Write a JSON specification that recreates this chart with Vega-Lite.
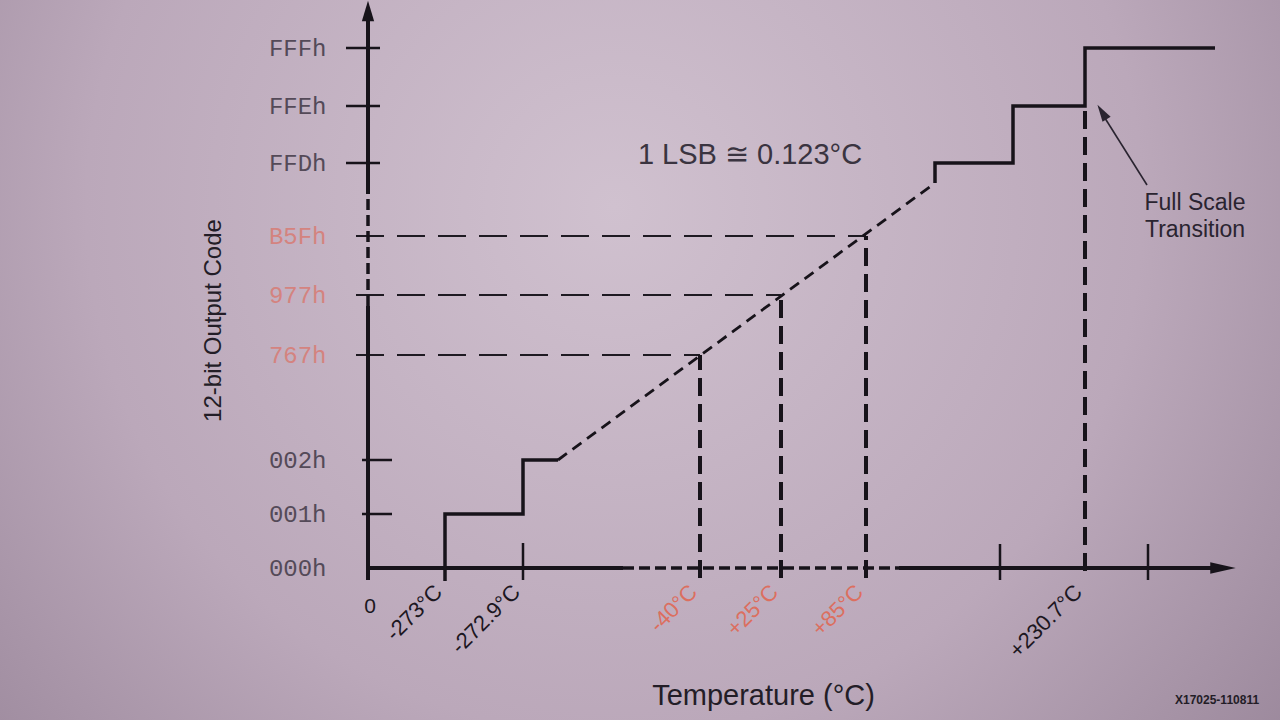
{
  "$schema": "https://vega.github.io/schema/vega-lite/v6.json",
  "width": 1280,
  "height": 720,
  "autosize": {"type": "none"},
  "padding": 0,
  "background": "#b3a0b2",
  "view": {
    "stroke": null,
    "fill": {
      "gradient": "radial",
      "x1": 0.48, "y1": 0.38, "r1": 0,
      "x2": 0.48, "y2": 0.38, "r2": 0.75,
      "stops": [
        {"offset": 0, "color": "#d0c1cf"},
        {"offset": 0.55, "color": "#bba8ba"},
        {"offset": 1, "color": "#927f93"}
      ]
    }
  },
  "datasets": {
    "lines": [
      {"kind": "axis", "seg": "y-lo", "ord": 0, "u": 0, "v": -1.2},
      {"kind": "axis", "seg": "y-lo", "ord": 1, "u": 0, "v": 26.2},
      {"kind": "axis", "seg": "y-hi", "ord": 0, "u": 0, "v": 37.4},
      {"kind": "axis", "seg": "y-hi", "ord": 1, "u": 0, "v": 55},
      {"kind": "axis", "seg": "x-lo", "ord": 0, "u": -0.2, "v": 0},
      {"kind": "axis", "seg": "x-lo", "ord": 1, "u": 25.5, "v": 0},
      {"kind": "axis", "seg": "x-hi", "ord": 0, "u": 53.1, "v": 0},
      {"kind": "axis", "seg": "x-hi", "ord": 1, "u": 84.5, "v": 0},
      {"kind": "axis-break", "seg": "y-br", "ord": 0, "u": 0, "v": 26.2},
      {"kind": "axis-break", "seg": "y-br", "ord": 1, "u": 0, "v": 37.4},
      {"kind": "axis-break", "seg": "x-br", "ord": 0, "u": 25.5, "v": 0},
      {"kind": "axis-break", "seg": "x-br", "ord": 1, "u": 53.1, "v": 0},
      {"kind": "tick", "seg": "FFF", "ord": 0, "u": -2.2, "v": 52},
      {"kind": "tick", "seg": "FFF", "ord": 1, "u": 1.2, "v": 52},
      {"kind": "tick", "seg": "FFE", "ord": 0, "u": -2.2, "v": 46.2},
      {"kind": "tick", "seg": "FFE", "ord": 1, "u": 1.2, "v": 46.2},
      {"kind": "tick", "seg": "FFD", "ord": 0, "u": -2.2, "v": 40.5},
      {"kind": "tick", "seg": "FFD", "ord": 1, "u": 1.2, "v": 40.5},
      {"kind": "tick", "seg": "002", "ord": 0, "u": -0.6, "v": 10.8},
      {"kind": "tick", "seg": "002", "ord": 1, "u": 2.4, "v": 10.8},
      {"kind": "tick", "seg": "001", "ord": 0, "u": -0.6, "v": 5.4},
      {"kind": "tick", "seg": "001", "ord": 1, "u": 2.4, "v": 5.4},
      {"kind": "tick", "seg": "t-272.9", "ord": 0, "u": 15.5, "v": -1.2},
      {"kind": "tick", "seg": "t-272.9", "ord": 1, "u": 15.5, "v": 2.5},
      {"kind": "tick", "seg": "t-a", "ord": 0, "u": 63.2, "v": -1.2},
      {"kind": "tick", "seg": "t-a", "ord": 1, "u": 63.2, "v": 2.4},
      {"kind": "tick", "seg": "t-b", "ord": 0, "u": 78, "v": -1.2},
      {"kind": "tick", "seg": "t-b", "ord": 1, "u": 78, "v": 2.4},
      {"kind": "transfer", "seg": "low", "ord": 0, "u": 7.7, "v": -1.3},
      {"kind": "transfer", "seg": "low", "ord": 1, "u": 7.7, "v": 5.4},
      {"kind": "transfer", "seg": "low", "ord": 2, "u": 15.5, "v": 5.4},
      {"kind": "transfer", "seg": "low", "ord": 3, "u": 15.5, "v": 10.8},
      {"kind": "transfer", "seg": "low", "ord": 4, "u": 19, "v": 10.8},
      {"kind": "transfer", "seg": "high", "ord": 0, "u": 56.7, "v": 38.5},
      {"kind": "transfer", "seg": "high", "ord": 1, "u": 56.7, "v": 40.5},
      {"kind": "transfer", "seg": "high", "ord": 2, "u": 64.5, "v": 40.5},
      {"kind": "transfer", "seg": "high", "ord": 3, "u": 64.5, "v": 46.2},
      {"kind": "transfer", "seg": "high", "ord": 4, "u": 71.7, "v": 46.2},
      {"kind": "transfer", "seg": "high", "ord": 5, "u": 71.7, "v": 52},
      {"kind": "transfer", "seg": "high", "ord": 6, "u": 84.7, "v": 52},
      {"kind": "linear", "seg": "lin", "ord": 0, "u": 19, "v": 10.8},
      {"kind": "linear", "seg": "lin", "ord": 1, "u": 56.7, "v": 38.5},
      {"kind": "ref-code", "seg": "767h", "ord": 0, "u": -1.2, "v": 21.3},
      {"kind": "ref-code", "seg": "767h", "ord": 1, "u": 33.2, "v": 21.3},
      {"kind": "ref-code", "seg": "977h", "ord": 0, "u": -1.2, "v": 27.3},
      {"kind": "ref-code", "seg": "977h", "ord": 1, "u": 41.3, "v": 27.3},
      {"kind": "ref-code", "seg": "B5Fh", "ord": 0, "u": -1.2, "v": 33.2},
      {"kind": "ref-code", "seg": "B5Fh", "ord": 1, "u": 49.8, "v": 33.2},
      {"kind": "ref-temp", "seg": "-40", "ord": 0, "u": 33.2, "v": -1},
      {"kind": "ref-temp", "seg": "-40", "ord": 1, "u": 33.2, "v": 21.3},
      {"kind": "ref-temp", "seg": "+25", "ord": 0, "u": 41.3, "v": -1},
      {"kind": "ref-temp", "seg": "+25", "ord": 1, "u": 41.3, "v": 27.3},
      {"kind": "ref-temp", "seg": "+85", "ord": 0, "u": 49.8, "v": -1},
      {"kind": "ref-temp", "seg": "+85", "ord": 1, "u": 49.8, "v": 33.2},
      {"kind": "ref-temp", "seg": "+230.7", "ord": 0, "u": 71.7, "v": -0.3},
      {"kind": "ref-temp", "seg": "+230.7", "ord": 1, "u": 71.7, "v": 46.2},
      {"kind": "pointer", "seg": "fs", "ord": 0, "u": 77.9, "v": 38.3},
      {"kind": "pointer", "seg": "fs", "ord": 1, "u": 73.5, "v": 45.3}
    ],
    "notes": [
      {"note": "y-arrow", "label": "", "u": 0, "v": 55.7},
      {"note": "x-arrow", "label": "", "u": 85.5, "v": 0},
      {"note": "pointer-head", "label": "", "u": 73.4, "v": 45.6},
      {"note": "origin", "label": "0", "u": 0.2, "v": -3.9},
      {"note": "lsb", "label": "1 LSB  ≅ 0.123°C", "u": 38.2, "v": 41.3},
      {"note": "fs", "label": "Full Scale", "u": 82.7, "v": 36.5},
      {"note": "fs", "label": "Transition", "u": 82.7, "v": 33.8},
      {"note": "id", "label": "X17025-110811", "u": 80.7, "v": -13.2}
    ]
  },
  "data": {"name": "lines"},
  "encoding": {
    "x": {
      "field": "u",
      "type": "quantitative",
      "scale": {"domain": [-36.8, 91.2], "nice": false, "zero": false},
      "axis": {
        "orient": "bottom",
        "offset": -152,
        "values": [7.7, 15.5, 33.2, 41.3, 49.8, 71.7],
        "labelExpr": "datum.value == 7.7 ? '-273°C' : datum.value == 15.5 ? '-272.9°C' : datum.value == 33.2 ? '-40°C' : datum.value == 41.3 ? '+25°C' : datum.value == 49.8 ? '+85°C' : '+230.7°C'",
        "domain": false,
        "ticks": false,
        "grid": false,
        "labelAngle": -45,
        "labelAlign": "right",
        "labelBaseline": "middle",
        "labelPadding": 20,
        "labelOffset": -7,
        "labelFont": "Liberation Sans",
        "labelFontSize": 22,
        "labelFlush": false,
        "labelOverlap": false,
        "labelColor": {"condition": {"test": "datum.value > 30 && datum.value < 50", "value": "#dc6f5f"}, "value": "#1c171f"},
        "title": "Temperature (°C)",
        "titleFont": "Liberation Sans",
        "titleFontSize": 29,
        "titleFontWeight": "normal",
        "titleColor": "#231d27",
        "titleX": 763,
        "titleY": 127,
        "titleAlign": "center",
        "titleBaseline": "middle"
      }
    },
    "y": {
      "field": "v",
      "type": "quantitative",
      "scale": {"domain": [-15.2, 56.8], "nice": false, "zero": false},
      "axis": {
        "orient": "left",
        "offset": -368,
        "values": [0, 5.4, 10.8, 21.3, 27.3, 33.2, 40.5, 46.2, 52],
        "labelExpr": "datum.value == 0 ? '000h' : datum.value == 5.4 ? '001h' : datum.value == 10.8 ? '002h' : datum.value == 21.3 ? '767h' : datum.value == 27.3 ? '977h' : datum.value == 33.2 ? 'B5Fh' : datum.value == 40.5 ? 'FFDh' : datum.value == 46.2 ? 'FFEh' : 'FFFh'",
        "domain": false,
        "ticks": false,
        "grid": false,
        "labelPadding": 42,
        "labelFont": "Liberation Mono",
        "labelFontSize": 24,
        "labelBaseline": "middle",
        "labelFlush": false,
        "labelOverlap": false,
        "labelColor": {"condition": {"test": "datum.value > 20 && datum.value < 35", "value": "#d4837f"}, "value": "#544a58"},
        "title": "12-bit Output Code",
        "titleFont": "Liberation Sans",
        "titleFontSize": 24,
        "titleFontWeight": "normal",
        "titleColor": "#231d27",
        "titleX": -155,
        "titleY": 320,
        "titleAngle": -90,
        "titleAlign": "center",
        "titleBaseline": "middle"
      }
    }
  },
  "layer": [
    {
      "transform": [{"filter": "datum.kind == 'ref-code'"}],
      "mark": {"type": "line", "color": "#1e1a22", "strokeWidth": 2, "strokeDash": [28, 13], "strokeCap": "butt"},
      "encoding": {"detail": {"field": "seg"}, "order": {"field": "ord"}}
    },
    {
      "transform": [{"filter": "datum.kind == 'ref-temp'"}],
      "mark": {"type": "line", "color": "#17131a", "strokeWidth": 4, "strokeDash": [18, 8], "strokeCap": "butt"},
      "encoding": {"detail": {"field": "seg"}, "order": {"field": "ord"}}
    },
    {
      "transform": [{"filter": "datum.kind == 'axis'"}],
      "mark": {"type": "line", "color": "#17131a", "strokeWidth": 4, "strokeCap": "butt"},
      "encoding": {"detail": {"field": "seg"}, "order": {"field": "ord"}}
    },
    {
      "transform": [{"filter": "datum.kind == 'axis-break'"}],
      "mark": {"type": "line", "color": "#17131a", "strokeWidth": 3.5, "strokeDash": [11, 5], "strokeCap": "butt"},
      "encoding": {"detail": {"field": "seg"}, "order": {"field": "ord"}}
    },
    {
      "transform": [{"filter": "datum.kind == 'tick'"}],
      "mark": {"type": "line", "color": "#17131a", "strokeWidth": 2.5, "strokeCap": "butt"},
      "encoding": {"detail": {"field": "seg"}, "order": {"field": "ord"}}
    },
    {
      "transform": [{"filter": "datum.kind == 'transfer'"}],
      "mark": {"type": "line", "color": "#17131a", "strokeWidth": 3.5, "strokeCap": "butt", "strokeJoin": "miter"},
      "encoding": {"detail": {"field": "seg"}, "order": {"field": "ord"}}
    },
    {
      "transform": [{"filter": "datum.kind == 'linear'"}],
      "mark": {"type": "line", "color": "#17131a", "strokeWidth": 2.8, "strokeDash": [11, 7], "strokeCap": "butt"},
      "encoding": {"detail": {"field": "seg"}, "order": {"field": "ord"}}
    },
    {
      "transform": [{"filter": "datum.kind == 'pointer'"}],
      "mark": {"type": "line", "color": "#2a2430", "strokeWidth": 1.6},
      "encoding": {"detail": {"field": "seg"}, "order": {"field": "ord"}}
    },
    {
      "data": {"name": "notes"},
      "transform": [{"filter": "datum.note == 'y-arrow'"}],
      "mark": {"type": "point", "shape": "M -0.6 1 L 0 -1 L 0.6 1 Z", "size": 420, "filled": true, "color": "#17131a", "opacity": 1}
    },
    {
      "data": {"name": "notes"},
      "transform": [{"filter": "datum.note == 'x-arrow'"}],
      "mark": {"type": "point", "shape": "M -1 -0.45 L 1 0 L -1 0.45 Z", "size": 650, "filled": true, "color": "#17131a", "opacity": 1}
    },
    {
      "data": {"name": "notes"},
      "transform": [{"filter": "datum.note == 'pointer-head'"}],
      "mark": {"type": "point", "shape": "M -0.55 1 L 0 -1 L 0.55 1 Z", "size": 300, "filled": true, "color": "#2a2430", "opacity": 1, "angle": -32}
    },
    {
      "data": {"name": "notes"},
      "transform": [{"filter": "datum.note == 'origin'"}],
      "mark": {"type": "text", "font": "Liberation Sans", "fontSize": 21, "color": "#1c171f", "align": "center", "baseline": "middle"},
      "encoding": {"text": {"field": "label"}}
    },
    {
      "data": {"name": "notes"},
      "transform": [{"filter": "datum.note == 'lsb'"}],
      "mark": {"type": "text", "font": "Liberation Sans", "fontSize": 29, "color": "#3a3440", "align": "center", "baseline": "middle"},
      "encoding": {"text": {"field": "label"}}
    },
    {
      "data": {"name": "notes"},
      "transform": [{"filter": "datum.note == 'fs'"}],
      "mark": {"type": "text", "font": "Liberation Sans", "fontSize": 23, "color": "#2a2430", "align": "center", "baseline": "middle"},
      "encoding": {"text": {"field": "label"}}
    },
    {
      "data": {"name": "notes"},
      "transform": [{"filter": "datum.note == 'id'"}],
      "mark": {"type": "text", "font": "Liberation Sans", "fontSize": 12, "fontWeight": "bold", "color": "#231d27", "align": "left", "baseline": "middle"},
      "encoding": {"text": {"field": "label"}}
    }
  ]
}
